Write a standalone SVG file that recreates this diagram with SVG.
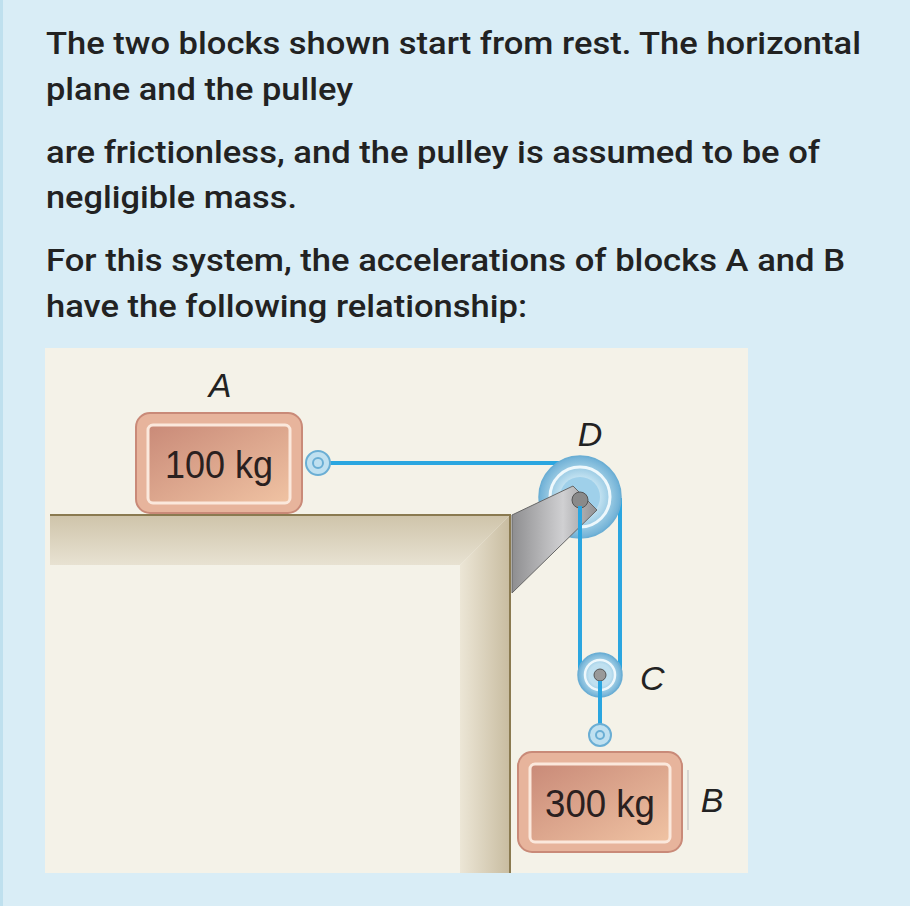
<svg xmlns="http://www.w3.org/2000/svg" width="910" height="906" viewBox="0 0 910 906">
<defs>
<linearGradient id="blk" x1="0" y1="0" x2="1" y2="1"><stop offset="0" stop-color="#c98a78"/><stop offset="1" stop-color="#f0c3a3"/></linearGradient>
<linearGradient id="top" x1="0" y1="0" x2="0" y2="1"><stop offset="0" stop-color="#cfc4aa"/><stop offset="1" stop-color="#e8e2d2"/></linearGradient>
<linearGradient id="side" x1="0" y1="0" x2="1" y2="0"><stop offset="0" stop-color="#ece6d6"/><stop offset="1" stop-color="#c8bca0"/></linearGradient>
<linearGradient id="brk" x1="0" y1="0" x2="1" y2="0"><stop offset="0" stop-color="#8e8e90"/><stop offset="0.6" stop-color="#d0d0d2"/><stop offset="1" stop-color="#909092"/></linearGradient>
<radialGradient id="pul"><stop offset="0.5" stop-color="#bfe0f0"/><stop offset="0.8" stop-color="#8fc4e0"/><stop offset="1" stop-color="#6fb0d6"/></radialGradient>
</defs>
<style>
.t{font-family:Roboto,"Liberation Sans",sans-serif;font-size:32px;font-weight:500;fill:#222}
.lab{font-family:"Liberation Sans",Arial,sans-serif;font-size:34px;font-style:italic;fill:#222}
.kg{font-family:"Liberation Sans",Arial,sans-serif;font-size:38px;fill:#2a2020}
.rope{stroke:#2aa6e0;stroke-width:4;fill:none}
</style>
<rect width="910" height="906" fill="#d9edf6"/>
<rect x="0" y="0" width="3" height="906" fill="#bfe0ee"/>
<g id="text">
<text class="t" x="46" y="54" textLength="815" lengthAdjust="spacingAndGlyphs">The two blocks shown start from rest. The horizontal</text>
<text class="t" x="46" y="100" textLength="307" lengthAdjust="spacingAndGlyphs">plane and the pulley</text>
<text class="t" x="46" y="163" textLength="774" lengthAdjust="spacingAndGlyphs">are frictionless, and the pulley is assumed to be of</text>
<text class="t" x="46" y="208" textLength="251" lengthAdjust="spacingAndGlyphs">negligible mass.</text>
<text class="t" x="46" y="271" textLength="799" lengthAdjust="spacingAndGlyphs">For this system, the accelerations of blocks A and B</text>
<text class="t" x="46" y="317" textLength="481" lengthAdjust="spacingAndGlyphs">have the following relationship:</text>
</g>
<rect x="45" y="348" width="703" height="525" fill="#f4f2e8"/>
<g id="table">
<polygon points="50,515 510,515 460,565 50,565" fill="url(#top)"/>
<polygon points="510,515 510,873 460,873 460,565" fill="url(#side)"/>
<path d="M50 515 H510 V873" fill="none" stroke="#8a7a50" stroke-width="2"/>
</g>
<g id="connectors">
<line class="rope" x1="320" y1="463" x2="578" y2="463"/>
<line class="rope" x1="580" y1="500" x2="580" y2="673"/>
<line class="rope" x1="620" y1="498" x2="620" y2="673"/>
<line class="rope" x1="600" y1="676" x2="600" y2="733"/>
</g>
<g id="pulleyD">
<circle cx="580" cy="497" r="41" fill="url(#pul)" stroke="#6aaed4" stroke-width="1.5"/>
<circle cx="580" cy="497" r="30" fill="none" stroke="#eef8fc" stroke-width="3"/>
<circle cx="580" cy="497" r="20" fill="#9fd0ea"/>
<polygon points="512,515 573,486 597,510 512,593" fill="url(#brk)" stroke="#666" stroke-width="1"/>
<circle cx="580" cy="500" r="8" fill="#8a8a8a" stroke="#555"/>
<line class="rope" x1="580" y1="506" x2="580" y2="560"/>
<text class="lab" x="590" y="446" text-anchor="middle">D</text>
</g>
<g id="pulleyC">
<circle cx="600" cy="675" r="22" fill="url(#pul)" stroke="#6aaed4" stroke-width="1.5"/>
<circle cx="600" cy="675" r="15" fill="none" stroke="#eef8fc" stroke-width="2.5"/>
<circle cx="600" cy="675" r="6" fill="#999" stroke="#555"/>
<line class="rope" x1="600" y1="681" x2="600" y2="730"/>
<text class="lab" x="640" y="690">C</text>
</g>
<g id="blockA">
<rect x="136" y="413" width="166" height="100" rx="14" fill="#e7b49c" stroke="#c98a78" stroke-width="2"/>
<rect x="148" y="425" width="142" height="78" rx="5" fill="url(#blk)" stroke="#fbe8dc" stroke-width="3"/>
<text class="kg" x="219" y="478" text-anchor="middle" textLength="108" lengthAdjust="spacingAndGlyphs">100 kg</text>
<circle cx="318" cy="463" r="12" fill="#bfe0f0" stroke="#6aaed4" stroke-width="2"/>
<circle cx="318" cy="463" r="5" fill="none" stroke="#6aaed4" stroke-width="2"/>
<text class="lab" x="220" y="397" text-anchor="middle">A</text>
</g>
<g id="blockB">
<circle cx="600" cy="735" r="11" fill="#bfe0f0" stroke="#6aaed4" stroke-width="2"/>
<circle cx="600" cy="735" r="4" fill="none" stroke="#6aaed4" stroke-width="2"/>
<rect x="518" y="752" width="164" height="100" rx="14" fill="#e7b49c" stroke="#c98a78" stroke-width="2"/>
<rect x="530" y="764" width="140" height="78" rx="5" fill="url(#blk)" stroke="#fbe8dc" stroke-width="3"/>
<text class="kg" x="600" y="817" text-anchor="middle" textLength="110" lengthAdjust="spacingAndGlyphs">300 kg</text>
<line x1="688" y1="770" x2="688" y2="830" stroke="#bbb" stroke-width="1"/>
<text class="lab" x="712" y="812" text-anchor="middle">B</text>
</g>
</svg>
